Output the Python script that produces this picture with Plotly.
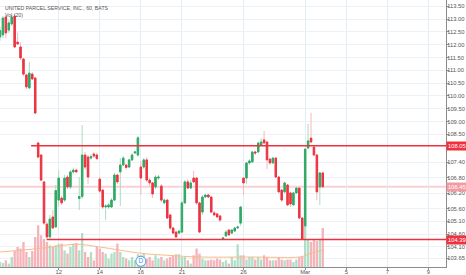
import plotly.graph_objects as go

# ---- data (hourly bars, index 0 = first bar of Feb 12) ----
bar_index = list(range(-20, 91))

opens = [112.30, 112.38, 113.08, 112.57, 112.81, 113.12, 112.10, 111.91, 111.44, 110.82,
         110.31, 110.85, 110.70, 108.16, 107.69, 106.64, 104.99, 104.49, 105.27, 104.88,
         105.93, 106.01, 105.93, 106.83, 106.44, 107.03, 107.10, 105.99, 106.07, 107.69,
         107.61, 107.57, 107.73, 107.69, 106.75, 106.32, 105.66, 105.66, 105.66, 105.93,
         106.91, 107.03, 107.30, 107.30, 107.22, 107.50, 107.77, 107.69, 107.22, 107.22,
         107.50, 106.71, 106.60, 106.44, 106.79, 106.48, 105.82, 105.93, 105.35, 104.84,
         104.68, 104.64, 104.68, 105.82, 106.64, 106.40, 106.79, 106.79, 105.82, 105.46,
         106.05, 106.13, 106.05, 105.43, 105.39, 105.31, 104.41, 104.53, 104.76, 104.64,
         104.72, 104.84, 105.03, 106.79, 106.79, 107.38, 107.42, 107.81, 107.81, 108.08,
         108.28, 108.20, 107.53, 107.38, 107.57, 106.83, 106.32, 106.25, 106.52, 106.21,
         105.74, 106.21, 106.40, 105.23, 104.92, 107.96, 108.35, 108.00, 107.69, 106.44,
         106.99]
highs = [112.70, 113.12, 113.16, 112.96, 113.16, 113.20, 112.46, 112.10, 111.48, 110.85,
         111.32, 110.93, 110.74, 108.20, 107.73, 106.67, 105.07, 105.35, 105.54, 106.52,
         107.10, 106.10, 106.91, 106.91, 107.10, 107.20, 107.16, 106.83, 108.86, 107.81,
         107.69, 107.72, 107.80, 107.77, 106.83, 106.36, 105.78, 105.80, 106.00, 107.00,
         106.95, 107.57, 107.65, 107.35, 107.55, 107.77, 107.85, 108.43, 107.45, 107.57,
         107.61, 106.79, 106.64, 106.91, 106.91, 106.56, 105.99, 105.97, 105.39, 104.88,
         104.72, 104.76, 105.90, 106.71, 106.75, 106.71, 107.07, 106.83, 105.86, 106.13,
         106.17, 106.17, 106.09, 105.50, 105.43, 105.35, 104.49, 104.76, 104.80, 104.80,
         104.88, 104.92, 105.70, 106.83, 107.42, 107.53, 107.85, 107.85, 108.20, 108.35,
         108.63, 108.24, 107.57, 107.61, 107.61, 106.87, 106.36, 106.64, 106.56, 106.25,
         106.25, 106.44, 106.44, 105.27, 107.96, 108.90, 109.34, 108.04, 107.73, 107.03,
         107.03]
lows = [112.15, 112.26, 112.26, 112.46, 112.73, 111.87, 111.99, 111.40, 110.78, 110.27,
        110.27, 110.62, 109.29, 107.57, 106.67, 104.96, 104.41, 104.41, 104.80, 104.84,
        105.67, 105.74, 105.86, 106.36, 106.36, 106.97, 106.99, 105.54, 105.97, 107.14,
        106.56, 107.50, 107.58, 107.50, 106.21, 105.58, 105.15, 105.58, 105.62, 105.89,
        106.56, 105.70, 107.26, 107.12, 107.18, 107.45, 107.72, 107.61, 106.13, 107.14,
        106.64, 106.48, 106.01, 106.36, 106.71, 105.85, 105.78, 105.19, 104.76, 104.60,
        104.45, 104.60, 104.64, 105.78, 106.36, 106.36, 106.60, 105.74, 104.64, 105.35,
        106.01, 106.01, 105.43, 105.31, 105.23, 105.07, 104.39, 104.49, 104.53, 104.60,
        104.68, 104.80, 104.92, 106.13, 106.56, 107.30, 107.38, 107.69, 107.77, 108.04,
        108.12, 107.14, 107.30, 107.34, 106.79, 106.21, 105.86, 106.21, 105.70, 105.66,
        105.70, 106.17, 105.19, 104.37, 104.88, 107.92, 108.16, 107.65, 105.93, 105.74,
        106.40]
closes = [112.55, 113.04, 112.46, 112.85, 113.08, 111.91, 112.03, 111.48, 110.85, 110.35,
          110.89, 110.66, 109.33, 107.61, 106.71, 105.03, 104.49, 105.19, 104.84, 106.30,
          106.79, 105.82, 106.79, 106.44, 107.03, 107.10, 107.03, 106.07, 107.69, 107.22,
          106.83, 107.63, 107.65, 107.55, 106.28, 105.66, 105.70, 105.74, 105.93, 106.91,
          106.64, 107.30, 107.57, 107.20, 107.50, 107.69, 107.81, 108.36, 106.79, 107.50,
          106.71, 106.60, 106.17, 106.83, 106.83, 105.93, 105.93, 105.23, 104.84, 104.64,
          104.49, 104.72, 105.82, 106.64, 106.40, 106.60, 106.64, 105.82, 104.68, 106.05,
          106.13, 106.05, 105.46, 105.35, 105.27, 105.15, 104.45, 104.68, 104.57, 104.76,
          104.84, 104.88, 105.66, 106.60, 107.38, 107.46, 107.81, 107.77, 108.16, 108.20,
          108.16, 107.50, 107.38, 107.57, 106.83, 106.25, 105.93, 106.60, 105.74, 105.78,
          106.21, 106.40, 105.23, 104.39, 107.92, 108.24, 108.20, 107.69, 106.25, 106.99,
          106.45]
volumes_k = [175, 140, 235, 120, 350, 560, 700, 645, 875, 525,
             350, 560, 1050, 1460, 1110, 980, 875, 760, 700, 760,
             800, 820, 580, 470, 700, 820, 840, 585, 1190, 525,
             350, 525, 235, 700, 645, 525, 470, 295, 470, 525,
             820, 525, 350, 295, 235, 350, 235, 445, 410, 470,
             295, 350, 235, 410, 295, 350, 235, 295, 350, 410,
             445, 445, 350, 350, 235, 120, 410, 645, 470, 295,
             235, 235, 260, 235, 295, 260, 175, 235, 120, 350,
             235, 795, 410, 410, 260, 350, 350, 260, 350, 260,
             410, 350, 235, 235, 235, 350, 260, 235, 260, 260,
             175, 260, 350, 375, 1660, 980, 875, 945, 910, 945,
             1365]

# Vol (20) moving-average line, read at a few bars
vol_ma_index = [-20, -6, 6, 14, 28, 37, 48, 65, 82, 84, 86, 90]
vol_ma_k = [525, 655, 795, 700, 480, 410, 350, 350, 350, 400, 490, 585]

# day labels (first bar of each day)
tick_index = [0, 14, 28, 42, 63, 84, 98, 112, 126]
tick_labels = ["12", "14", "16", "21", "26", "Mar", "5", "7", "9"]

price_ticks = [113.50, 113.00, 112.50, 112.00, 111.50, 111.00, 110.50, 110.00, 109.50,
               109.00, 108.50, 107.40, 106.80, 106.20, 105.60, 105.10, 104.60, 104.10, 103.65]

# drawn horizontal levels (start bar, price)
resistance = (-9.4, 108.05)
support = (-4.1, 104.39)
last_price = 106.45
dividend_bar = 28
dividend_marker_level_k = 200

# ---- styles ----
UP = "#32a866"
DOWN = "#ec3440"
UP_PALE = "#a9dcc0"
DOWN_PALE = "#f6b7bc"
VOL_UP = "#b3dec6"
VOL_DOWN = "#f6b3b9"
LEVEL = "#f0313d"
FONT = "Liberation Sans, Arial, sans-serif"
TXT = "#555555"

body_hi = [max(o, c) for o, c in zip(opens, closes)]
body_lo = [min(o, c) for o, c in zip(opens, closes)]
vol_colors = [VOL_UP if c >= o else VOL_DOWN for o, c in zip(opens, closes)]

fig = go.Figure()

# volume (base y axis, hidden)
fig.add_trace(go.Bar(x=bar_index, y=volumes_k, marker=dict(color=vol_colors, line=dict(width=0)),
                     width=0.8, yaxis="y", hoverinfo="skip"))
fig.add_trace(go.Scatter(x=vol_ma_index, y=vol_ma_k, mode="lines",
                         line=dict(color="#f9bb8c", width=1, shape="spline"),
                         yaxis="y", hoverinfo="skip"))
fig.add_trace(go.Scatter(x=[dividend_bar], y=[dividend_marker_level_k], mode="markers+text", text=["D"],
                         textposition="middle center",
                         textfont=dict(size=6.5, color="#3d8fe0", family=FONT),
                         marker=dict(size=10, color="white", line=dict(color="#4b9be6", width=1)),
                         yaxis="y", hoverinfo="skip"))

# candles: pale wicks, then solid bodies
fig.add_trace(go.Candlestick(x=bar_index, open=opens, high=highs, low=lows, close=closes,
                             increasing=dict(line=dict(color=UP_PALE, width=1), fillcolor=UP_PALE),
                             decreasing=dict(line=dict(color=DOWN_PALE, width=1), fillcolor=DOWN_PALE),
                             whiskerwidth=0, yaxis="y2", hoverinfo="skip"))
fig.add_trace(go.Candlestick(x=bar_index, open=opens, high=body_hi, low=body_lo, close=closes,
                             increasing=dict(line=dict(color=UP, width=1), fillcolor=UP),
                             decreasing=dict(line=dict(color=DOWN, width=1), fillcolor=DOWN),
                             whiskerwidth=0, yaxis="y2", hoverinfo="skip"))

x_min, x_max = -20, 132

shapes = [
    dict(type="line", xref="x", yref="y2", x0=x_min, x1=x_max, y0=last_price, y1=last_price,
         line=dict(color="#fbd0d4", width=2), layer="below"),
    dict(type="line", xref="x", yref="y2", x0=resistance[0], x1=x_max,
         y0=resistance[1], y1=resistance[1], line=dict(color=LEVEL, width=1.5)),
    dict(type="line", xref="x", yref="y2", x0=support[0], x1=x_max,
         y0=support[1], y1=support[1], line=dict(color=LEVEL, width=1.5)),
]

def price_label(val, bg):
    return dict(x=1, xref="paper", xanchor="left", xshift=0, y=val, yref="y2", yanchor="middle",
                text=f"{val:.2f}", showarrow=False, bgcolor=bg, borderpad=1,
                font=dict(size=5.8, color="white", family=FONT))

annotations = [
    dict(x=0, xref="paper", xanchor="left", xshift=3, y=1, yref="paper", yanchor="top", yshift=-3,
         text="UNITED PARCEL SERVICE, INC., 60, BATS", showarrow=False,
         font=dict(size=5.2, color=TXT, family=FONT)),
    dict(x=0, xref="paper", xanchor="left", xshift=3, y=1, yref="paper", yanchor="top", yshift=-10,
         text="Vol (20)", showarrow=False, font=dict(size=5.2, color=TXT, family=FONT)),
    price_label(resistance[1], "#f0313d"),
    price_label(last_price, "#f49aa2"),
    price_label(support[1], "#f0313d"),
]

fig.update_layout(
    width=466, height=275,
    margin=dict(l=0, r=20, t=0, b=8),
    paper_bgcolor="white", plot_bgcolor="white",
    showlegend=False, hovermode=False,
    font=dict(family=FONT, size=6, color=TXT),
    xaxis=dict(range=[x_min, x_max], tickvals=tick_index, ticktext=tick_labels,
               showgrid=True, gridcolor="#e3edf4", gridwidth=1, zeroline=False,
               showline=True, linecolor="#8c8c8c", linewidth=1,
               ticks="outside", ticklen=2, tickcolor="#8c8c8c", ticklabelstandoff=-3,
               tickfont=dict(size=5.8, color=TXT, family=FONT),
               rangeslider=dict(visible=False), automargin=False, fixedrange=True),
    yaxis=dict(range=[0, 9345], visible=False, fixedrange=True),
    yaxis2=dict(overlaying="y", side="right", range=[103.316, 113.745],
                tickvals=price_ticks, ticktext=[f"{v:.2f}" for v in price_ticks],
                showgrid=True, gridcolor="#eef2f6", gridwidth=1, zeroline=False,
                showline=True, linecolor="#8c8c8c", linewidth=1,
                ticks="outside", ticklen=2, tickcolor="#8c8c8c", ticklabelstandoff=-3,
                tickfont=dict(size=5.8, color=TXT, family=FONT),
                automargin=False, fixedrange=True),
    shapes=shapes,
    annotations=annotations,
)

fig.write_html("out.html")
